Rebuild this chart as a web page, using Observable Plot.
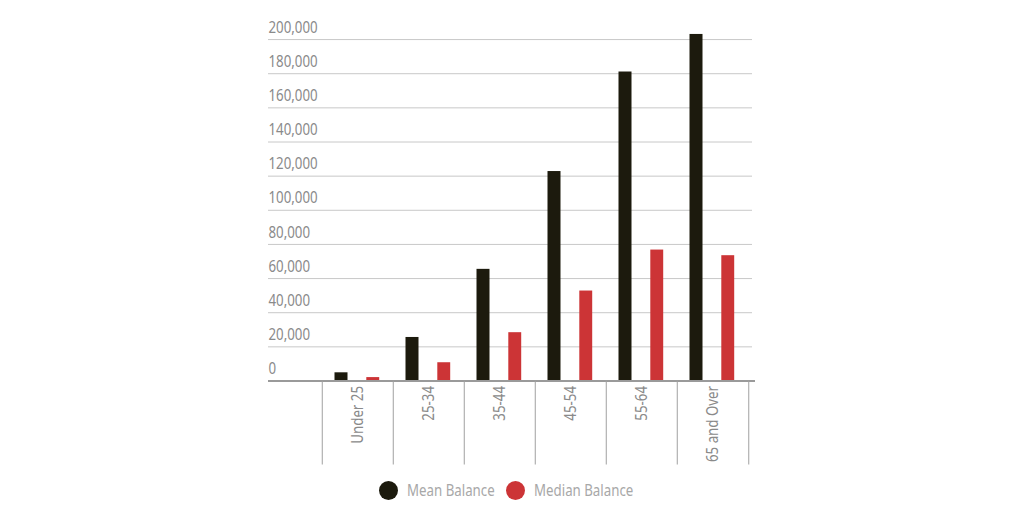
<!DOCTYPE html>
<html>
<head>
<meta charset="utf-8">
<script src="https://cdn.jsdelivr.net/npm/d3@7"></script>
<script src="https://cdn.jsdelivr.net/npm/@observablehq/plot@0.6"></script>
<style>
  html, body { margin: 0; padding: 0; background: #fff; }
  body { width: 1024px; height: 512px; overflow: hidden; font-family: "Noto Sans", sans-serif; }
  #legend { display: flex; align-items: center; justify-content: flex-start; height: 40px; margin-left: 379px; font-size: 16px; color: #a8a8a8; }
  .sw { width: 19px; height: 19px; border-radius: 50%; display: inline-block; margin-right: 9px; flex: none; }
  .item { display: flex; align-items: center; margin-right: 11px; }
  .lbl { display: inline-block; transform: scaleX(0.83); transform-origin: left center; white-space: nowrap; }
</style>
</head>
<body>
<div id="chart"></div>
<div id="legend"></div>
<script>
const ageGroups = ["Under 25", "25-34", "35-44", "45-54", "55-64", "65 and Over"];
const meanBalance = [4800, 25500, 65400, 122700, 181000, 203000];
const medianBalance = [2000, 10700, 28300, 52700, 76700, 73400];
const yTicks = [0, 20000, 40000, 60000, 80000, 100000, 120000, 140000, 160000, 180000, 200000];
const seriesNames = ["Mean Balance", "Median Balance"];
const seriesColors = ["#1c1a0d", "#cc3436"];

const rows = ageGroups.map((a, i) => ({age: a, mean: meanBalance[i], median: medianBalance[i]}));

const W = 1024, H = 470, mL = 320, mR = 275;
const bw = (W - mL - mR) / ageGroups.length;
const squeeze = 0.83;

const chart = Plot.plot({
  width: W,
  height: H,
  marginLeft: mL,
  marginRight: mR,
  marginTop: 22,
  marginBottom: H - 380.5,
  style: {fontFamily: '"Noto Sans", sans-serif', fontSize: "16px", color: "#888", background: "#fff"},
  x: {domain: ageGroups, padding: 0, axis: null, label: null},
  y: {domain: [0, 210000], axis: null, label: null},
  marks: [
    Plot.ruleY(yTicks.filter(d => d > 0), {stroke: "#c8c8c8", strokeWidth: 1, insetLeft: -52, insetRight: -3}),
    Plot.axisY({ticks: yTicks, tickSize: 0, tickPadding: 0, textAnchor: "start", dx: -52, dy: -12, tickFormat: d3.format(","), fill: "#8a8a8a", fontSize: 16, label: null}),
    Plot.barY(rows, {x: "age", y: "mean", fill: seriesColors[0], insetLeft: 12.5, insetRight: 45.5}),
    Plot.barY(rows, {x: "age", y: "median", fill: seriesColors[1], insetLeft: 44.3, insetRight: 13.8}),
    Plot.ruleY([0], {stroke: "#9a9a9a", strokeWidth: 2, insetLeft: -52, insetRight: -6}),
    Plot.axisX({ticks: ageGroups, tickSize: 84, tickFormat: () => "", dx: -bw / 2, stroke: "#a0a0a0", strokeWidth: 1, label: null}),
    Plot.axisX({ticks: [ageGroups[ageGroups.length - 1]], tickSize: 84, tickFormat: () => "", dx: bw / 2, stroke: "#a0a0a0", strokeWidth: 1, label: null}),
    Plot.axisX({ticks: ageGroups, tickSize: 0, tickPadding: 5, tickRotate: -90, fill: "#8a8a8a", fontSize: 16, label: null})
  ]
});
document.getElementById("chart").appendChild(chart);

// narrow the glyphs to mimic a condensed face
chart.querySelectorAll("text").forEach(t => {
  const L = t.getComputedTextLength();
  if (L > 0) {
    t.setAttribute("textLength", L * squeeze);
    t.setAttribute("lengthAdjust", "spacingAndGlyphs");
  }
});

const legend = document.getElementById("legend");
seriesNames.forEach((name, i) => {
  const item = document.createElement("div");
  item.className = "item";
  const sw = document.createElement("span");
  sw.className = "sw";
  sw.style.background = seriesColors[i];
  const t = document.createElement("span");
  t.className = "lbl";
  t.textContent = name;
  item.appendChild(sw);
  item.appendChild(t);
  legend.appendChild(item);
  const w = t.offsetWidth;
  t.style.marginRight = (-(1 - squeeze) * w) + "px";
});
</script>
</body>
</html>
